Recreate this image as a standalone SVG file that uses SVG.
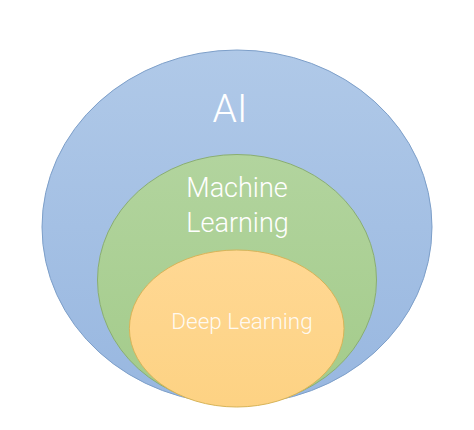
<svg xmlns="http://www.w3.org/2000/svg" width="474" height="430" viewBox="0 0 474 430">
<defs>
<linearGradient id="gb" x1="0" y1="0" x2="0" y2="1"><stop offset="0" stop-color="#b0c9e8"/><stop offset="1" stop-color="#98b7e0"/></linearGradient>
<linearGradient id="gg" x1="0" y1="0" x2="0" y2="1"><stop offset="0" stop-color="#b2d49e"/><stop offset="1" stop-color="#a3cb8a"/></linearGradient>
<linearGradient id="go" x1="0" y1="0" x2="0" y2="1"><stop offset="0" stop-color="#ffd894"/><stop offset="1" stop-color="#fdd283"/></linearGradient>
<style>
.lbl{font-family:Roboto,"Open Sans","Liberation Sans",sans-serif;font-weight:300;fill:#ffffff;text-anchor:middle}
</style>
</defs>
<rect width="474" height="430" fill="#ffffff"/>
<g id="ai">
<ellipse cx="237" cy="227" rx="195" ry="177" fill="url(#gb)" stroke="#7d9fc9" stroke-width="1"/>
<text class="lbl" x="230" y="121.5" font-size="39">AI</text>
</g>
<g id="ml">
<ellipse cx="237" cy="280" rx="139.5" ry="125.5" fill="url(#gg)" stroke="#8aae72" stroke-width="1"/>
<text class="lbl" x="237" y="196.5" font-size="27">Machine</text>
<text class="lbl" x="237.5" y="231.5" font-size="27">Learning</text>
</g>
<g id="dl">
<ellipse cx="236.7" cy="328.5" rx="107.3" ry="78.5" fill="url(#go)" stroke="#d8b458" stroke-width="1"/>
<text class="lbl" x="242" y="329.3" font-size="22.5" fill-opacity="0.9">Deep Learning</text>
</g>
<g id="connectors"/>
</svg>
